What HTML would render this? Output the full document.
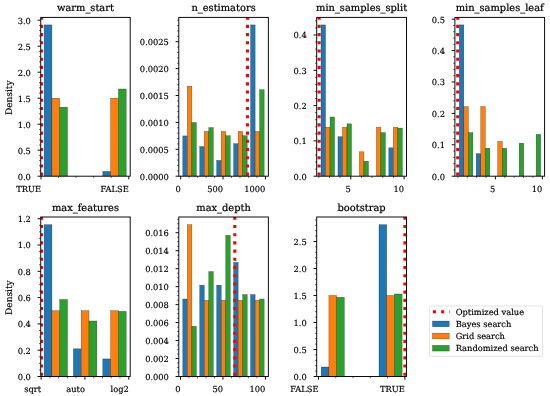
<!DOCTYPE html>
<html><head><meta charset="utf-8"><title>Hyperparameter distributions</title>
<style>
html,body{margin:0;padding:0;background:#fff;}
svg{display:block;font-family:"DejaVu Serif", "Liberation Serif", serif;fill:#000;text-rendering:geometricPrecision;}
text{stroke:#000;stroke-width:0.16px;}
</style></head>
<body>
<svg width="550" height="396" viewBox="0 0 550 396">
<rect width="550" height="396" fill="#fff"/>
<g>
<clipPath id="c1"><rect x="40.75" y="17.4" width="89.45" height="158.8"/></clipPath>
<g clip-path="url(#c1)">
<rect x="44.1" y="24.9" width="7.8" height="151.3" fill="#1f77b4" stroke="#000" stroke-opacity="0.55" stroke-width="0.45"/>
<rect x="51.9" y="98.2" width="7.8" height="78" fill="#ff7f0e" stroke="#000" stroke-opacity="0.55" stroke-width="0.45"/>
<rect x="59.7" y="107.2" width="7.8" height="69" fill="#2ca02c" stroke="#000" stroke-opacity="0.55" stroke-width="0.45"/>
<rect x="102.8" y="171.4" width="7.8" height="4.8" fill="#1f77b4" stroke="#000" stroke-opacity="0.55" stroke-width="0.45"/>
<rect x="110.6" y="98.2" width="7.8" height="78" fill="#ff7f0e" stroke="#000" stroke-opacity="0.55" stroke-width="0.45"/>
<rect x="118.4" y="89" width="7.8" height="87.2" fill="#2ca02c" stroke="#000" stroke-opacity="0.55" stroke-width="0.45"/>
<line x1="41.5" x2="41.5" y1="175.7" y2="17.4" stroke="#ff0000" stroke-width="3.1" stroke-dasharray="3.1 5.11"/>
</g>
<line x1="58.56" x2="58.56" y1="176.2" y2="177.95" stroke="#000" stroke-width="0.6"/>
<line x1="76.12" x2="76.12" y1="176.2" y2="177.95" stroke="#000" stroke-width="0.6"/>
<line x1="93.68" x2="93.68" y1="176.2" y2="177.95" stroke="#000" stroke-width="0.6"/>
<line x1="111.24" x2="111.24" y1="176.2" y2="177.95" stroke="#000" stroke-width="0.6"/>
<line x1="41" x2="41" y1="176.2" y2="179.4" stroke="#000" stroke-width="0.95"/>
<text x="41" y="191.75" font-size="8.3" text-anchor="end">TRUE</text>
<line x1="128.8" x2="128.8" y1="176.2" y2="179.4" stroke="#000" stroke-width="0.95"/>
<text x="128.8" y="191.75" font-size="8.3" text-anchor="end">FALSE</text>
<line x1="37.55" x2="40.75" y1="176.2" y2="176.2" stroke="#000" stroke-width="0.95"/>
<text x="30.85" y="179.54" font-size="8.3" text-anchor="end">0.0</text>
<line x1="37.55" x2="40.75" y1="150.2" y2="150.2" stroke="#000" stroke-width="0.95"/>
<text x="30.85" y="153.54" font-size="8.3" text-anchor="end">0.5</text>
<line x1="37.55" x2="40.75" y1="124.2" y2="124.2" stroke="#000" stroke-width="0.95"/>
<text x="30.85" y="127.54" font-size="8.3" text-anchor="end">1.0</text>
<line x1="37.55" x2="40.75" y1="98.2" y2="98.2" stroke="#000" stroke-width="0.95"/>
<text x="30.85" y="101.54" font-size="8.3" text-anchor="end">1.5</text>
<line x1="37.55" x2="40.75" y1="72.2" y2="72.2" stroke="#000" stroke-width="0.95"/>
<text x="30.85" y="75.54" font-size="8.3" text-anchor="end">2.0</text>
<line x1="37.55" x2="40.75" y1="46.2" y2="46.2" stroke="#000" stroke-width="0.95"/>
<text x="30.85" y="49.54" font-size="8.3" text-anchor="end">2.5</text>
<line x1="37.55" x2="40.75" y1="20.2" y2="20.2" stroke="#000" stroke-width="0.95"/>
<text x="30.85" y="23.54" font-size="8.3" text-anchor="end">3.0</text>
<line x1="39" x2="40.75" y1="171" y2="171" stroke="#000" stroke-width="0.6"/>
<line x1="39" x2="40.75" y1="165.8" y2="165.8" stroke="#000" stroke-width="0.6"/>
<line x1="39" x2="40.75" y1="160.6" y2="160.6" stroke="#000" stroke-width="0.6"/>
<line x1="39" x2="40.75" y1="155.4" y2="155.4" stroke="#000" stroke-width="0.6"/>
<line x1="39" x2="40.75" y1="145" y2="145" stroke="#000" stroke-width="0.6"/>
<line x1="39" x2="40.75" y1="139.8" y2="139.8" stroke="#000" stroke-width="0.6"/>
<line x1="39" x2="40.75" y1="134.6" y2="134.6" stroke="#000" stroke-width="0.6"/>
<line x1="39" x2="40.75" y1="129.4" y2="129.4" stroke="#000" stroke-width="0.6"/>
<line x1="39" x2="40.75" y1="119" y2="119" stroke="#000" stroke-width="0.6"/>
<line x1="39" x2="40.75" y1="113.8" y2="113.8" stroke="#000" stroke-width="0.6"/>
<line x1="39" x2="40.75" y1="108.6" y2="108.6" stroke="#000" stroke-width="0.6"/>
<line x1="39" x2="40.75" y1="103.4" y2="103.4" stroke="#000" stroke-width="0.6"/>
<line x1="39" x2="40.75" y1="93" y2="93" stroke="#000" stroke-width="0.6"/>
<line x1="39" x2="40.75" y1="87.8" y2="87.8" stroke="#000" stroke-width="0.6"/>
<line x1="39" x2="40.75" y1="82.6" y2="82.6" stroke="#000" stroke-width="0.6"/>
<line x1="39" x2="40.75" y1="77.4" y2="77.4" stroke="#000" stroke-width="0.6"/>
<line x1="39" x2="40.75" y1="67" y2="67" stroke="#000" stroke-width="0.6"/>
<line x1="39" x2="40.75" y1="61.8" y2="61.8" stroke="#000" stroke-width="0.6"/>
<line x1="39" x2="40.75" y1="56.6" y2="56.6" stroke="#000" stroke-width="0.6"/>
<line x1="39" x2="40.75" y1="51.4" y2="51.4" stroke="#000" stroke-width="0.6"/>
<line x1="39" x2="40.75" y1="41" y2="41" stroke="#000" stroke-width="0.6"/>
<line x1="39" x2="40.75" y1="35.8" y2="35.8" stroke="#000" stroke-width="0.6"/>
<line x1="39" x2="40.75" y1="30.6" y2="30.6" stroke="#000" stroke-width="0.6"/>
<line x1="39" x2="40.75" y1="25.4" y2="25.4" stroke="#000" stroke-width="0.6"/>
<rect x="40.75" y="17.4" width="89.45" height="158.8" fill="none" stroke="#000" stroke-width="0.95"/>
<text x="85.47" y="10.9" font-size="9.9" style="stroke-width:0.22px" text-anchor="middle">warm_start</text>
<text transform="translate(12.0,97.7) rotate(-90)" font-size="9.0" text-anchor="middle">Density</text>
</g>
<g>
<clipPath id="c2"><rect x="178.8" y="17.4" width="89.55" height="158.8"/></clipPath>
<g clip-path="url(#c2)">
<rect x="182.8" y="135.9" width="4.52" height="40.3" fill="#1f77b4" stroke="#000" stroke-opacity="0.55" stroke-width="0.45"/>
<rect x="187.32" y="86.2" width="4.52" height="90" fill="#ff7f0e" stroke="#000" stroke-opacity="0.55" stroke-width="0.45"/>
<rect x="191.84" y="122.5" width="4.52" height="53.7" fill="#2ca02c" stroke="#000" stroke-opacity="0.55" stroke-width="0.45"/>
<rect x="199.75" y="146.5" width="4.52" height="29.7" fill="#1f77b4" stroke="#000" stroke-opacity="0.55" stroke-width="0.45"/>
<rect x="204.27" y="131.4" width="4.52" height="44.8" fill="#ff7f0e" stroke="#000" stroke-opacity="0.55" stroke-width="0.45"/>
<rect x="208.79" y="127.6" width="4.52" height="48.6" fill="#2ca02c" stroke="#000" stroke-opacity="0.55" stroke-width="0.45"/>
<rect x="216.7" y="160.4" width="4.52" height="15.8" fill="#1f77b4" stroke="#000" stroke-opacity="0.55" stroke-width="0.45"/>
<rect x="221.22" y="131.4" width="4.52" height="44.8" fill="#ff7f0e" stroke="#000" stroke-opacity="0.55" stroke-width="0.45"/>
<rect x="225.74" y="135.7" width="4.52" height="40.5" fill="#2ca02c" stroke="#000" stroke-opacity="0.55" stroke-width="0.45"/>
<rect x="233.65" y="143.7" width="4.52" height="32.5" fill="#1f77b4" stroke="#000" stroke-opacity="0.55" stroke-width="0.45"/>
<rect x="238.17" y="131.4" width="4.52" height="44.8" fill="#ff7f0e" stroke="#000" stroke-opacity="0.55" stroke-width="0.45"/>
<rect x="242.69" y="135.7" width="4.52" height="40.5" fill="#2ca02c" stroke="#000" stroke-opacity="0.55" stroke-width="0.45"/>
<rect x="250.6" y="24.9" width="4.52" height="151.3" fill="#1f77b4" stroke="#000" stroke-opacity="0.55" stroke-width="0.45"/>
<rect x="255.12" y="131.4" width="4.52" height="44.8" fill="#ff7f0e" stroke="#000" stroke-opacity="0.55" stroke-width="0.45"/>
<rect x="259.64" y="89.7" width="4.52" height="86.5" fill="#2ca02c" stroke="#000" stroke-opacity="0.55" stroke-width="0.45"/>
<line x1="247.45" x2="247.45" y1="175.7" y2="17.4" stroke="#ff0000" stroke-width="3.1" stroke-dasharray="3.1 5.11"/>
</g>
<line x1="189.17" x2="189.17" y1="176.2" y2="177.95" stroke="#000" stroke-width="0.6"/>
<line x1="197.64" x2="197.64" y1="176.2" y2="177.95" stroke="#000" stroke-width="0.6"/>
<line x1="206.11" x2="206.11" y1="176.2" y2="177.95" stroke="#000" stroke-width="0.6"/>
<line x1="214.58" x2="214.58" y1="176.2" y2="177.95" stroke="#000" stroke-width="0.6"/>
<line x1="231.52" x2="231.52" y1="176.2" y2="177.95" stroke="#000" stroke-width="0.6"/>
<line x1="239.99" x2="239.99" y1="176.2" y2="177.95" stroke="#000" stroke-width="0.6"/>
<line x1="248.46" x2="248.46" y1="176.2" y2="177.95" stroke="#000" stroke-width="0.6"/>
<line x1="256.93" x2="256.93" y1="176.2" y2="177.95" stroke="#000" stroke-width="0.6"/>
<line x1="180.7" x2="180.7" y1="176.2" y2="179.4" stroke="#000" stroke-width="0.95"/>
<text x="180.7" y="191.75" font-size="8.3" text-anchor="end">0</text>
<line x1="223.05" x2="223.05" y1="176.2" y2="179.4" stroke="#000" stroke-width="0.95"/>
<text x="223.05" y="191.75" font-size="8.3" text-anchor="end">500</text>
<line x1="265.4" x2="265.4" y1="176.2" y2="179.4" stroke="#000" stroke-width="0.95"/>
<text x="265.4" y="191.75" font-size="8.3" text-anchor="end">1000</text>
<line x1="175.6" x2="178.8" y1="176.2" y2="176.2" stroke="#000" stroke-width="0.95"/>
<text x="168.9" y="179.54" font-size="8.3" text-anchor="end">0.0000</text>
<line x1="175.6" x2="178.8" y1="149.3" y2="149.3" stroke="#000" stroke-width="0.95"/>
<text x="168.9" y="152.64" font-size="8.3" text-anchor="end">0.0005</text>
<line x1="175.6" x2="178.8" y1="122.4" y2="122.4" stroke="#000" stroke-width="0.95"/>
<text x="168.9" y="125.74" font-size="8.3" text-anchor="end">0.0010</text>
<line x1="175.6" x2="178.8" y1="95.5" y2="95.5" stroke="#000" stroke-width="0.95"/>
<text x="168.9" y="98.84" font-size="8.3" text-anchor="end">0.0015</text>
<line x1="175.6" x2="178.8" y1="68.6" y2="68.6" stroke="#000" stroke-width="0.95"/>
<text x="168.9" y="71.94" font-size="8.3" text-anchor="end">0.0020</text>
<line x1="175.6" x2="178.8" y1="41.7" y2="41.7" stroke="#000" stroke-width="0.95"/>
<text x="168.9" y="45.04" font-size="8.3" text-anchor="end">0.0025</text>
<line x1="177.05" x2="178.8" y1="170.82" y2="170.82" stroke="#000" stroke-width="0.6"/>
<line x1="177.05" x2="178.8" y1="165.44" y2="165.44" stroke="#000" stroke-width="0.6"/>
<line x1="177.05" x2="178.8" y1="160.06" y2="160.06" stroke="#000" stroke-width="0.6"/>
<line x1="177.05" x2="178.8" y1="154.68" y2="154.68" stroke="#000" stroke-width="0.6"/>
<line x1="177.05" x2="178.8" y1="143.92" y2="143.92" stroke="#000" stroke-width="0.6"/>
<line x1="177.05" x2="178.8" y1="138.54" y2="138.54" stroke="#000" stroke-width="0.6"/>
<line x1="177.05" x2="178.8" y1="133.16" y2="133.16" stroke="#000" stroke-width="0.6"/>
<line x1="177.05" x2="178.8" y1="127.78" y2="127.78" stroke="#000" stroke-width="0.6"/>
<line x1="177.05" x2="178.8" y1="117.02" y2="117.02" stroke="#000" stroke-width="0.6"/>
<line x1="177.05" x2="178.8" y1="111.64" y2="111.64" stroke="#000" stroke-width="0.6"/>
<line x1="177.05" x2="178.8" y1="106.26" y2="106.26" stroke="#000" stroke-width="0.6"/>
<line x1="177.05" x2="178.8" y1="100.88" y2="100.88" stroke="#000" stroke-width="0.6"/>
<line x1="177.05" x2="178.8" y1="90.12" y2="90.12" stroke="#000" stroke-width="0.6"/>
<line x1="177.05" x2="178.8" y1="84.74" y2="84.74" stroke="#000" stroke-width="0.6"/>
<line x1="177.05" x2="178.8" y1="79.36" y2="79.36" stroke="#000" stroke-width="0.6"/>
<line x1="177.05" x2="178.8" y1="73.98" y2="73.98" stroke="#000" stroke-width="0.6"/>
<line x1="177.05" x2="178.8" y1="63.22" y2="63.22" stroke="#000" stroke-width="0.6"/>
<line x1="177.05" x2="178.8" y1="57.84" y2="57.84" stroke="#000" stroke-width="0.6"/>
<line x1="177.05" x2="178.8" y1="52.46" y2="52.46" stroke="#000" stroke-width="0.6"/>
<line x1="177.05" x2="178.8" y1="47.08" y2="47.08" stroke="#000" stroke-width="0.6"/>
<line x1="177.05" x2="178.8" y1="36.32" y2="36.32" stroke="#000" stroke-width="0.6"/>
<line x1="177.05" x2="178.8" y1="30.94" y2="30.94" stroke="#000" stroke-width="0.6"/>
<line x1="177.05" x2="178.8" y1="25.56" y2="25.56" stroke="#000" stroke-width="0.6"/>
<line x1="177.05" x2="178.8" y1="20.18" y2="20.18" stroke="#000" stroke-width="0.6"/>
<rect x="178.8" y="17.4" width="89.55" height="158.8" fill="none" stroke="#000" stroke-width="0.95"/>
<text x="223.58" y="10.9" font-size="9.9" style="stroke-width:0.22px" text-anchor="middle">n_estimators</text>
</g>
<g>
<clipPath id="c3"><rect x="316.7" y="17.4" width="89.8" height="158.8"/></clipPath>
<g clip-path="url(#c3)">
<rect x="321" y="24.9" width="4.52" height="151.3" fill="#1f77b4" stroke="#000" stroke-opacity="0.55" stroke-width="0.45"/>
<rect x="325.52" y="127.3" width="4.52" height="48.9" fill="#ff7f0e" stroke="#000" stroke-opacity="0.55" stroke-width="0.45"/>
<rect x="330.04" y="117" width="4.52" height="59.2" fill="#2ca02c" stroke="#000" stroke-opacity="0.55" stroke-width="0.45"/>
<rect x="337.95" y="136.7" width="4.52" height="39.5" fill="#1f77b4" stroke="#000" stroke-opacity="0.55" stroke-width="0.45"/>
<rect x="342.47" y="127.3" width="4.52" height="48.9" fill="#ff7f0e" stroke="#000" stroke-opacity="0.55" stroke-width="0.45"/>
<rect x="346.99" y="123.8" width="4.52" height="52.4" fill="#2ca02c" stroke="#000" stroke-opacity="0.55" stroke-width="0.45"/>
<rect x="359.42" y="151.8" width="4.52" height="24.4" fill="#ff7f0e" stroke="#000" stroke-opacity="0.55" stroke-width="0.45"/>
<rect x="363.94" y="161.2" width="4.52" height="15" fill="#2ca02c" stroke="#000" stroke-opacity="0.55" stroke-width="0.45"/>
<rect x="376.37" y="127.3" width="4.52" height="48.9" fill="#ff7f0e" stroke="#000" stroke-opacity="0.55" stroke-width="0.45"/>
<rect x="380.89" y="132.6" width="4.52" height="43.6" fill="#2ca02c" stroke="#000" stroke-opacity="0.55" stroke-width="0.45"/>
<rect x="388.8" y="147.8" width="4.52" height="28.4" fill="#1f77b4" stroke="#000" stroke-opacity="0.55" stroke-width="0.45"/>
<rect x="393.32" y="127.3" width="4.52" height="48.9" fill="#ff7f0e" stroke="#000" stroke-opacity="0.55" stroke-width="0.45"/>
<rect x="397.84" y="128.1" width="4.52" height="48.1" fill="#2ca02c" stroke="#000" stroke-opacity="0.55" stroke-width="0.45"/>
<line x1="319.1" x2="319.1" y1="175.7" y2="17.4" stroke="#ff0000" stroke-width="3.1" stroke-dasharray="3.1 5.11"/>
</g>
<line x1="318.82" x2="318.82" y1="176.2" y2="177.95" stroke="#000" stroke-width="0.6"/>
<line x1="329.48" x2="329.48" y1="176.2" y2="177.95" stroke="#000" stroke-width="0.6"/>
<line x1="340.14" x2="340.14" y1="176.2" y2="177.95" stroke="#000" stroke-width="0.6"/>
<line x1="361.46" x2="361.46" y1="176.2" y2="177.95" stroke="#000" stroke-width="0.6"/>
<line x1="372.12" x2="372.12" y1="176.2" y2="177.95" stroke="#000" stroke-width="0.6"/>
<line x1="382.78" x2="382.78" y1="176.2" y2="177.95" stroke="#000" stroke-width="0.6"/>
<line x1="393.44" x2="393.44" y1="176.2" y2="177.95" stroke="#000" stroke-width="0.6"/>
<line x1="350.8" x2="350.8" y1="176.2" y2="179.4" stroke="#000" stroke-width="0.95"/>
<text x="350.8" y="191.75" font-size="8.3" text-anchor="end">5</text>
<line x1="404.1" x2="404.1" y1="176.2" y2="179.4" stroke="#000" stroke-width="0.95"/>
<text x="404.1" y="191.75" font-size="8.3" text-anchor="end">10</text>
<line x1="313.5" x2="316.7" y1="176.2" y2="176.2" stroke="#000" stroke-width="0.95"/>
<text x="306.8" y="179.54" font-size="8.3" text-anchor="end">0.0</text>
<line x1="313.5" x2="316.7" y1="140.9" y2="140.9" stroke="#000" stroke-width="0.95"/>
<text x="306.8" y="144.24" font-size="8.3" text-anchor="end">0.1</text>
<line x1="313.5" x2="316.7" y1="105.6" y2="105.6" stroke="#000" stroke-width="0.95"/>
<text x="306.8" y="108.94" font-size="8.3" text-anchor="end">0.2</text>
<line x1="313.5" x2="316.7" y1="70.3" y2="70.3" stroke="#000" stroke-width="0.95"/>
<text x="306.8" y="73.64" font-size="8.3" text-anchor="end">0.3</text>
<line x1="313.5" x2="316.7" y1="35" y2="35" stroke="#000" stroke-width="0.95"/>
<text x="306.8" y="38.34" font-size="8.3" text-anchor="end">0.4</text>
<line x1="314.95" x2="316.7" y1="169.14" y2="169.14" stroke="#000" stroke-width="0.6"/>
<line x1="314.95" x2="316.7" y1="162.08" y2="162.08" stroke="#000" stroke-width="0.6"/>
<line x1="314.95" x2="316.7" y1="155.02" y2="155.02" stroke="#000" stroke-width="0.6"/>
<line x1="314.95" x2="316.7" y1="147.96" y2="147.96" stroke="#000" stroke-width="0.6"/>
<line x1="314.95" x2="316.7" y1="133.84" y2="133.84" stroke="#000" stroke-width="0.6"/>
<line x1="314.95" x2="316.7" y1="126.78" y2="126.78" stroke="#000" stroke-width="0.6"/>
<line x1="314.95" x2="316.7" y1="119.72" y2="119.72" stroke="#000" stroke-width="0.6"/>
<line x1="314.95" x2="316.7" y1="112.66" y2="112.66" stroke="#000" stroke-width="0.6"/>
<line x1="314.95" x2="316.7" y1="98.54" y2="98.54" stroke="#000" stroke-width="0.6"/>
<line x1="314.95" x2="316.7" y1="91.48" y2="91.48" stroke="#000" stroke-width="0.6"/>
<line x1="314.95" x2="316.7" y1="84.42" y2="84.42" stroke="#000" stroke-width="0.6"/>
<line x1="314.95" x2="316.7" y1="77.36" y2="77.36" stroke="#000" stroke-width="0.6"/>
<line x1="314.95" x2="316.7" y1="63.24" y2="63.24" stroke="#000" stroke-width="0.6"/>
<line x1="314.95" x2="316.7" y1="56.18" y2="56.18" stroke="#000" stroke-width="0.6"/>
<line x1="314.95" x2="316.7" y1="49.12" y2="49.12" stroke="#000" stroke-width="0.6"/>
<line x1="314.95" x2="316.7" y1="42.06" y2="42.06" stroke="#000" stroke-width="0.6"/>
<line x1="314.95" x2="316.7" y1="27.94" y2="27.94" stroke="#000" stroke-width="0.6"/>
<line x1="314.95" x2="316.7" y1="20.88" y2="20.88" stroke="#000" stroke-width="0.6"/>
<rect x="316.7" y="17.4" width="89.8" height="158.8" fill="none" stroke="#000" stroke-width="0.95"/>
<text x="361.6" y="10.9" font-size="9.9" style="stroke-width:0.22px" text-anchor="middle">min_samples_split</text>
</g>
<g>
<clipPath id="c4"><rect x="454.9" y="17.4" width="89.7" height="158.8"/></clipPath>
<g clip-path="url(#c4)">
<rect x="459.3" y="24.9" width="4.52" height="151.3" fill="#1f77b4" stroke="#000" stroke-opacity="0.55" stroke-width="0.45"/>
<rect x="463.82" y="106.6" width="4.52" height="69.6" fill="#ff7f0e" stroke="#000" stroke-opacity="0.55" stroke-width="0.45"/>
<rect x="468.34" y="132.6" width="4.52" height="43.6" fill="#2ca02c" stroke="#000" stroke-opacity="0.55" stroke-width="0.45"/>
<rect x="476.25" y="153.6" width="4.52" height="22.6" fill="#1f77b4" stroke="#000" stroke-opacity="0.55" stroke-width="0.45"/>
<rect x="480.77" y="106.6" width="4.52" height="69.6" fill="#ff7f0e" stroke="#000" stroke-opacity="0.55" stroke-width="0.45"/>
<rect x="485.29" y="148.3" width="4.52" height="27.9" fill="#2ca02c" stroke="#000" stroke-opacity="0.55" stroke-width="0.45"/>
<rect x="497.72" y="141.5" width="4.52" height="34.7" fill="#ff7f0e" stroke="#000" stroke-opacity="0.55" stroke-width="0.45"/>
<rect x="502.24" y="148.3" width="4.52" height="27.9" fill="#2ca02c" stroke="#000" stroke-opacity="0.55" stroke-width="0.45"/>
<rect x="519.19" y="143.2" width="4.52" height="33" fill="#2ca02c" stroke="#000" stroke-opacity="0.55" stroke-width="0.45"/>
<rect x="536.14" y="134.4" width="4.52" height="41.8" fill="#2ca02c" stroke="#000" stroke-opacity="0.55" stroke-width="0.45"/>
<line x1="457.7" x2="457.7" y1="175.7" y2="17.4" stroke="#ff0000" stroke-width="3.1" stroke-dasharray="3.1 5.11"/>
</g>
<line x1="457.84" x2="457.84" y1="176.2" y2="177.95" stroke="#000" stroke-width="0.6"/>
<line x1="467.23" x2="467.23" y1="176.2" y2="177.95" stroke="#000" stroke-width="0.6"/>
<line x1="476.62" x2="476.62" y1="176.2" y2="177.95" stroke="#000" stroke-width="0.6"/>
<line x1="486.01" x2="486.01" y1="176.2" y2="177.95" stroke="#000" stroke-width="0.6"/>
<line x1="504.79" x2="504.79" y1="176.2" y2="177.95" stroke="#000" stroke-width="0.6"/>
<line x1="514.18" x2="514.18" y1="176.2" y2="177.95" stroke="#000" stroke-width="0.6"/>
<line x1="523.57" x2="523.57" y1="176.2" y2="177.95" stroke="#000" stroke-width="0.6"/>
<line x1="532.96" x2="532.96" y1="176.2" y2="177.95" stroke="#000" stroke-width="0.6"/>
<line x1="495.4" x2="495.4" y1="176.2" y2="179.4" stroke="#000" stroke-width="0.95"/>
<text x="495.4" y="191.75" font-size="8.3" text-anchor="end">5</text>
<line x1="542.35" x2="542.35" y1="176.2" y2="179.4" stroke="#000" stroke-width="0.95"/>
<text x="542.35" y="191.75" font-size="8.3" text-anchor="end">10</text>
<line x1="451.7" x2="454.9" y1="176.2" y2="176.2" stroke="#000" stroke-width="0.95"/>
<text x="445" y="179.54" font-size="8.3" text-anchor="end">0.0</text>
<line x1="451.7" x2="454.9" y1="144.8" y2="144.8" stroke="#000" stroke-width="0.95"/>
<text x="445" y="148.14" font-size="8.3" text-anchor="end">0.1</text>
<line x1="451.7" x2="454.9" y1="113.4" y2="113.4" stroke="#000" stroke-width="0.95"/>
<text x="445" y="116.74" font-size="8.3" text-anchor="end">0.2</text>
<line x1="451.7" x2="454.9" y1="82" y2="82" stroke="#000" stroke-width="0.95"/>
<text x="445" y="85.34" font-size="8.3" text-anchor="end">0.3</text>
<line x1="451.7" x2="454.9" y1="50.6" y2="50.6" stroke="#000" stroke-width="0.95"/>
<text x="445" y="53.94" font-size="8.3" text-anchor="end">0.4</text>
<line x1="451.7" x2="454.9" y1="19.2" y2="19.2" stroke="#000" stroke-width="0.95"/>
<text x="445" y="22.54" font-size="8.3" text-anchor="end">0.5</text>
<line x1="453.15" x2="454.9" y1="169.92" y2="169.92" stroke="#000" stroke-width="0.6"/>
<line x1="453.15" x2="454.9" y1="163.64" y2="163.64" stroke="#000" stroke-width="0.6"/>
<line x1="453.15" x2="454.9" y1="157.36" y2="157.36" stroke="#000" stroke-width="0.6"/>
<line x1="453.15" x2="454.9" y1="151.08" y2="151.08" stroke="#000" stroke-width="0.6"/>
<line x1="453.15" x2="454.9" y1="138.52" y2="138.52" stroke="#000" stroke-width="0.6"/>
<line x1="453.15" x2="454.9" y1="132.24" y2="132.24" stroke="#000" stroke-width="0.6"/>
<line x1="453.15" x2="454.9" y1="125.96" y2="125.96" stroke="#000" stroke-width="0.6"/>
<line x1="453.15" x2="454.9" y1="119.68" y2="119.68" stroke="#000" stroke-width="0.6"/>
<line x1="453.15" x2="454.9" y1="107.12" y2="107.12" stroke="#000" stroke-width="0.6"/>
<line x1="453.15" x2="454.9" y1="100.84" y2="100.84" stroke="#000" stroke-width="0.6"/>
<line x1="453.15" x2="454.9" y1="94.56" y2="94.56" stroke="#000" stroke-width="0.6"/>
<line x1="453.15" x2="454.9" y1="88.28" y2="88.28" stroke="#000" stroke-width="0.6"/>
<line x1="453.15" x2="454.9" y1="75.72" y2="75.72" stroke="#000" stroke-width="0.6"/>
<line x1="453.15" x2="454.9" y1="69.44" y2="69.44" stroke="#000" stroke-width="0.6"/>
<line x1="453.15" x2="454.9" y1="63.16" y2="63.16" stroke="#000" stroke-width="0.6"/>
<line x1="453.15" x2="454.9" y1="56.88" y2="56.88" stroke="#000" stroke-width="0.6"/>
<line x1="453.15" x2="454.9" y1="44.32" y2="44.32" stroke="#000" stroke-width="0.6"/>
<line x1="453.15" x2="454.9" y1="38.04" y2="38.04" stroke="#000" stroke-width="0.6"/>
<line x1="453.15" x2="454.9" y1="31.76" y2="31.76" stroke="#000" stroke-width="0.6"/>
<line x1="453.15" x2="454.9" y1="25.48" y2="25.48" stroke="#000" stroke-width="0.6"/>
<rect x="454.9" y="17.4" width="89.7" height="158.8" fill="none" stroke="#000" stroke-width="0.95"/>
<text x="499.75" y="10.9" font-size="9.9" style="stroke-width:0.22px" text-anchor="middle">min_samples_leaf</text>
</g>
<g>
<clipPath id="c5"><rect x="40.75" y="217" width="89.45" height="159.5"/></clipPath>
<g clip-path="url(#c5)">
<rect x="44.1" y="224.7" width="7.8" height="151.8" fill="#1f77b4" stroke="#000" stroke-opacity="0.55" stroke-width="0.45"/>
<rect x="51.9" y="310.7" width="7.8" height="65.8" fill="#ff7f0e" stroke="#000" stroke-opacity="0.55" stroke-width="0.45"/>
<rect x="59.7" y="299.5" width="7.8" height="77" fill="#2ca02c" stroke="#000" stroke-opacity="0.55" stroke-width="0.45"/>
<rect x="73.4" y="348.8" width="7.8" height="27.7" fill="#1f77b4" stroke="#000" stroke-opacity="0.55" stroke-width="0.45"/>
<rect x="81.2" y="310.7" width="7.8" height="65.8" fill="#ff7f0e" stroke="#000" stroke-opacity="0.55" stroke-width="0.45"/>
<rect x="89" y="321" width="7.8" height="55.5" fill="#2ca02c" stroke="#000" stroke-opacity="0.55" stroke-width="0.45"/>
<rect x="102.8" y="358.9" width="7.8" height="17.6" fill="#1f77b4" stroke="#000" stroke-opacity="0.55" stroke-width="0.45"/>
<rect x="110.6" y="310.7" width="7.8" height="65.8" fill="#ff7f0e" stroke="#000" stroke-opacity="0.55" stroke-width="0.45"/>
<rect x="118.4" y="311.4" width="7.8" height="65.1" fill="#2ca02c" stroke="#000" stroke-opacity="0.55" stroke-width="0.45"/>
<line x1="41.5" x2="41.5" y1="375.8" y2="217" stroke="#ff0000" stroke-width="3.1" stroke-dasharray="3.1 5.11"/>
</g>
<line x1="49.87" x2="49.87" y1="376.5" y2="378.25" stroke="#000" stroke-width="0.6"/>
<line x1="58.64" x2="58.64" y1="376.5" y2="378.25" stroke="#000" stroke-width="0.6"/>
<line x1="67.41" x2="67.41" y1="376.5" y2="378.25" stroke="#000" stroke-width="0.6"/>
<line x1="76.18" x2="76.18" y1="376.5" y2="378.25" stroke="#000" stroke-width="0.6"/>
<line x1="93.72" x2="93.72" y1="376.5" y2="378.25" stroke="#000" stroke-width="0.6"/>
<line x1="102.49" x2="102.49" y1="376.5" y2="378.25" stroke="#000" stroke-width="0.6"/>
<line x1="111.26" x2="111.26" y1="376.5" y2="378.25" stroke="#000" stroke-width="0.6"/>
<line x1="120.03" x2="120.03" y1="376.5" y2="378.25" stroke="#000" stroke-width="0.6"/>
<line x1="41.1" x2="41.1" y1="376.5" y2="379.7" stroke="#000" stroke-width="0.95"/>
<text x="41.1" y="392.05" font-size="8.3" text-anchor="end">sqrt</text>
<line x1="84.95" x2="84.95" y1="376.5" y2="379.7" stroke="#000" stroke-width="0.95"/>
<text x="84.95" y="392.05" font-size="8.3" text-anchor="end">auto</text>
<line x1="128.8" x2="128.8" y1="376.5" y2="379.7" stroke="#000" stroke-width="0.95"/>
<text x="128.8" y="392.05" font-size="8.3" text-anchor="end">log2</text>
<line x1="37.55" x2="40.75" y1="376.5" y2="376.5" stroke="#000" stroke-width="0.95"/>
<text x="30.85" y="379.84" font-size="8.3" text-anchor="end">0.0</text>
<line x1="37.55" x2="40.75" y1="350.2" y2="350.2" stroke="#000" stroke-width="0.95"/>
<text x="30.85" y="353.54" font-size="8.3" text-anchor="end">0.2</text>
<line x1="37.55" x2="40.75" y1="323.9" y2="323.9" stroke="#000" stroke-width="0.95"/>
<text x="30.85" y="327.24" font-size="8.3" text-anchor="end">0.4</text>
<line x1="37.55" x2="40.75" y1="297.6" y2="297.6" stroke="#000" stroke-width="0.95"/>
<text x="30.85" y="300.94" font-size="8.3" text-anchor="end">0.6</text>
<line x1="37.55" x2="40.75" y1="271.3" y2="271.3" stroke="#000" stroke-width="0.95"/>
<text x="30.85" y="274.64" font-size="8.3" text-anchor="end">0.8</text>
<line x1="37.55" x2="40.75" y1="245" y2="245" stroke="#000" stroke-width="0.95"/>
<text x="30.85" y="248.34" font-size="8.3" text-anchor="end">1.0</text>
<line x1="37.55" x2="40.75" y1="218.7" y2="218.7" stroke="#000" stroke-width="0.95"/>
<text x="30.85" y="222.04" font-size="8.3" text-anchor="end">1.2</text>
<line x1="39" x2="40.75" y1="369.93" y2="369.93" stroke="#000" stroke-width="0.6"/>
<line x1="39" x2="40.75" y1="363.35" y2="363.35" stroke="#000" stroke-width="0.6"/>
<line x1="39" x2="40.75" y1="356.77" y2="356.77" stroke="#000" stroke-width="0.6"/>
<line x1="39" x2="40.75" y1="343.62" y2="343.62" stroke="#000" stroke-width="0.6"/>
<line x1="39" x2="40.75" y1="337.05" y2="337.05" stroke="#000" stroke-width="0.6"/>
<line x1="39" x2="40.75" y1="330.48" y2="330.48" stroke="#000" stroke-width="0.6"/>
<line x1="39" x2="40.75" y1="317.32" y2="317.32" stroke="#000" stroke-width="0.6"/>
<line x1="39" x2="40.75" y1="310.75" y2="310.75" stroke="#000" stroke-width="0.6"/>
<line x1="39" x2="40.75" y1="304.18" y2="304.18" stroke="#000" stroke-width="0.6"/>
<line x1="39" x2="40.75" y1="291.02" y2="291.02" stroke="#000" stroke-width="0.6"/>
<line x1="39" x2="40.75" y1="284.45" y2="284.45" stroke="#000" stroke-width="0.6"/>
<line x1="39" x2="40.75" y1="277.88" y2="277.88" stroke="#000" stroke-width="0.6"/>
<line x1="39" x2="40.75" y1="264.73" y2="264.73" stroke="#000" stroke-width="0.6"/>
<line x1="39" x2="40.75" y1="258.15" y2="258.15" stroke="#000" stroke-width="0.6"/>
<line x1="39" x2="40.75" y1="251.57" y2="251.57" stroke="#000" stroke-width="0.6"/>
<line x1="39" x2="40.75" y1="238.42" y2="238.42" stroke="#000" stroke-width="0.6"/>
<line x1="39" x2="40.75" y1="231.85" y2="231.85" stroke="#000" stroke-width="0.6"/>
<line x1="39" x2="40.75" y1="225.27" y2="225.27" stroke="#000" stroke-width="0.6"/>
<rect x="40.75" y="217" width="89.45" height="159.5" fill="none" stroke="#000" stroke-width="0.95"/>
<text x="85.47" y="210.5" font-size="9.9" style="stroke-width:0.22px" text-anchor="middle">max_features</text>
<text transform="translate(12.0,297.65) rotate(-90)" font-size="9.0" text-anchor="middle">Density</text>
</g>
<g>
<clipPath id="c6"><rect x="178.8" y="217" width="89.55" height="159.5"/></clipPath>
<g clip-path="url(#c6)">
<rect x="182.8" y="299" width="4.52" height="77.5" fill="#1f77b4" stroke="#000" stroke-opacity="0.55" stroke-width="0.45"/>
<rect x="187.32" y="224.7" width="4.52" height="151.8" fill="#ff7f0e" stroke="#000" stroke-opacity="0.55" stroke-width="0.45"/>
<rect x="191.84" y="326.3" width="4.52" height="50.2" fill="#2ca02c" stroke="#000" stroke-opacity="0.55" stroke-width="0.45"/>
<rect x="199.75" y="285.2" width="4.52" height="91.3" fill="#1f77b4" stroke="#000" stroke-opacity="0.55" stroke-width="0.45"/>
<rect x="204.27" y="300.3" width="4.52" height="76.2" fill="#ff7f0e" stroke="#000" stroke-opacity="0.55" stroke-width="0.45"/>
<rect x="208.79" y="271.6" width="4.52" height="104.9" fill="#2ca02c" stroke="#000" stroke-opacity="0.55" stroke-width="0.45"/>
<rect x="216.7" y="285.2" width="4.52" height="91.3" fill="#1f77b4" stroke="#000" stroke-opacity="0.55" stroke-width="0.45"/>
<rect x="221.22" y="300.3" width="4.52" height="76.2" fill="#ff7f0e" stroke="#000" stroke-opacity="0.55" stroke-width="0.45"/>
<rect x="225.74" y="235.4" width="4.52" height="141.1" fill="#2ca02c" stroke="#000" stroke-opacity="0.55" stroke-width="0.45"/>
<rect x="233.65" y="262.5" width="4.52" height="114" fill="#1f77b4" stroke="#000" stroke-opacity="0.55" stroke-width="0.45"/>
<rect x="238.17" y="300.3" width="4.52" height="76.2" fill="#ff7f0e" stroke="#000" stroke-opacity="0.55" stroke-width="0.45"/>
<rect x="242.69" y="294.6" width="4.52" height="81.9" fill="#2ca02c" stroke="#000" stroke-opacity="0.55" stroke-width="0.45"/>
<rect x="250.6" y="294.6" width="4.52" height="81.9" fill="#1f77b4" stroke="#000" stroke-opacity="0.55" stroke-width="0.45"/>
<rect x="255.12" y="300.3" width="4.52" height="76.2" fill="#ff7f0e" stroke="#000" stroke-opacity="0.55" stroke-width="0.45"/>
<rect x="259.64" y="299" width="4.52" height="77.5" fill="#2ca02c" stroke="#000" stroke-opacity="0.55" stroke-width="0.45"/>
<line x1="234.8" x2="234.8" y1="375.8" y2="217" stroke="#ff0000" stroke-width="3.1" stroke-dasharray="3.1 5.11"/>
</g>
<line x1="188.99" x2="188.99" y1="376.5" y2="378.25" stroke="#000" stroke-width="0.6"/>
<line x1="197.48" x2="197.48" y1="376.5" y2="378.25" stroke="#000" stroke-width="0.6"/>
<line x1="205.97" x2="205.97" y1="376.5" y2="378.25" stroke="#000" stroke-width="0.6"/>
<line x1="214.46" x2="214.46" y1="376.5" y2="378.25" stroke="#000" stroke-width="0.6"/>
<line x1="231.44" x2="231.44" y1="376.5" y2="378.25" stroke="#000" stroke-width="0.6"/>
<line x1="239.93" x2="239.93" y1="376.5" y2="378.25" stroke="#000" stroke-width="0.6"/>
<line x1="248.42" x2="248.42" y1="376.5" y2="378.25" stroke="#000" stroke-width="0.6"/>
<line x1="256.91" x2="256.91" y1="376.5" y2="378.25" stroke="#000" stroke-width="0.6"/>
<line x1="180.5" x2="180.5" y1="376.5" y2="379.7" stroke="#000" stroke-width="0.95"/>
<text x="180.5" y="392.05" font-size="8.3" text-anchor="end">0</text>
<line x1="222.95" x2="222.95" y1="376.5" y2="379.7" stroke="#000" stroke-width="0.95"/>
<text x="222.95" y="392.05" font-size="8.3" text-anchor="end">50</text>
<line x1="265.4" x2="265.4" y1="376.5" y2="379.7" stroke="#000" stroke-width="0.95"/>
<text x="265.4" y="392.05" font-size="8.3" text-anchor="end">100</text>
<line x1="175.6" x2="178.8" y1="376.5" y2="376.5" stroke="#000" stroke-width="0.95"/>
<text x="168.9" y="379.84" font-size="8.3" text-anchor="end">0.000</text>
<line x1="175.6" x2="178.8" y1="358.53" y2="358.53" stroke="#000" stroke-width="0.95"/>
<text x="168.9" y="361.87" font-size="8.3" text-anchor="end">0.002</text>
<line x1="175.6" x2="178.8" y1="340.56" y2="340.56" stroke="#000" stroke-width="0.95"/>
<text x="168.9" y="343.9" font-size="8.3" text-anchor="end">0.004</text>
<line x1="175.6" x2="178.8" y1="322.59" y2="322.59" stroke="#000" stroke-width="0.95"/>
<text x="168.9" y="325.93" font-size="8.3" text-anchor="end">0.006</text>
<line x1="175.6" x2="178.8" y1="304.62" y2="304.62" stroke="#000" stroke-width="0.95"/>
<text x="168.9" y="307.96" font-size="8.3" text-anchor="end">0.008</text>
<line x1="175.6" x2="178.8" y1="286.65" y2="286.65" stroke="#000" stroke-width="0.95"/>
<text x="168.9" y="289.99" font-size="8.3" text-anchor="end">0.010</text>
<line x1="175.6" x2="178.8" y1="268.68" y2="268.68" stroke="#000" stroke-width="0.95"/>
<text x="168.9" y="272.02" font-size="8.3" text-anchor="end">0.012</text>
<line x1="175.6" x2="178.8" y1="250.71" y2="250.71" stroke="#000" stroke-width="0.95"/>
<text x="168.9" y="254.05" font-size="8.3" text-anchor="end">0.014</text>
<line x1="175.6" x2="178.8" y1="232.74" y2="232.74" stroke="#000" stroke-width="0.95"/>
<text x="168.9" y="236.08" font-size="8.3" text-anchor="end">0.016</text>
<line x1="177.05" x2="178.8" y1="372.01" y2="372.01" stroke="#000" stroke-width="0.6"/>
<line x1="177.05" x2="178.8" y1="367.51" y2="367.51" stroke="#000" stroke-width="0.6"/>
<line x1="177.05" x2="178.8" y1="363.02" y2="363.02" stroke="#000" stroke-width="0.6"/>
<line x1="177.05" x2="178.8" y1="354.04" y2="354.04" stroke="#000" stroke-width="0.6"/>
<line x1="177.05" x2="178.8" y1="349.55" y2="349.55" stroke="#000" stroke-width="0.6"/>
<line x1="177.05" x2="178.8" y1="345.05" y2="345.05" stroke="#000" stroke-width="0.6"/>
<line x1="177.05" x2="178.8" y1="336.07" y2="336.07" stroke="#000" stroke-width="0.6"/>
<line x1="177.05" x2="178.8" y1="331.57" y2="331.57" stroke="#000" stroke-width="0.6"/>
<line x1="177.05" x2="178.8" y1="327.08" y2="327.08" stroke="#000" stroke-width="0.6"/>
<line x1="177.05" x2="178.8" y1="318.1" y2="318.1" stroke="#000" stroke-width="0.6"/>
<line x1="177.05" x2="178.8" y1="313.61" y2="313.61" stroke="#000" stroke-width="0.6"/>
<line x1="177.05" x2="178.8" y1="309.11" y2="309.11" stroke="#000" stroke-width="0.6"/>
<line x1="177.05" x2="178.8" y1="300.13" y2="300.13" stroke="#000" stroke-width="0.6"/>
<line x1="177.05" x2="178.8" y1="295.63" y2="295.63" stroke="#000" stroke-width="0.6"/>
<line x1="177.05" x2="178.8" y1="291.14" y2="291.14" stroke="#000" stroke-width="0.6"/>
<line x1="177.05" x2="178.8" y1="282.16" y2="282.16" stroke="#000" stroke-width="0.6"/>
<line x1="177.05" x2="178.8" y1="277.67" y2="277.67" stroke="#000" stroke-width="0.6"/>
<line x1="177.05" x2="178.8" y1="273.17" y2="273.17" stroke="#000" stroke-width="0.6"/>
<line x1="177.05" x2="178.8" y1="264.19" y2="264.19" stroke="#000" stroke-width="0.6"/>
<line x1="177.05" x2="178.8" y1="259.69" y2="259.69" stroke="#000" stroke-width="0.6"/>
<line x1="177.05" x2="178.8" y1="255.2" y2="255.2" stroke="#000" stroke-width="0.6"/>
<line x1="177.05" x2="178.8" y1="246.22" y2="246.22" stroke="#000" stroke-width="0.6"/>
<line x1="177.05" x2="178.8" y1="241.72" y2="241.72" stroke="#000" stroke-width="0.6"/>
<line x1="177.05" x2="178.8" y1="237.23" y2="237.23" stroke="#000" stroke-width="0.6"/>
<line x1="177.05" x2="178.8" y1="228.25" y2="228.25" stroke="#000" stroke-width="0.6"/>
<line x1="177.05" x2="178.8" y1="223.75" y2="223.75" stroke="#000" stroke-width="0.6"/>
<line x1="177.05" x2="178.8" y1="219.26" y2="219.26" stroke="#000" stroke-width="0.6"/>
<rect x="178.8" y="217" width="89.55" height="159.5" fill="none" stroke="#000" stroke-width="0.95"/>
<text x="223.58" y="210.5" font-size="9.9" style="stroke-width:0.22px" text-anchor="middle">max_depth</text>
</g>
<g>
<clipPath id="c7"><rect x="316.7" y="217" width="89.8" height="159.5"/></clipPath>
<g clip-path="url(#c7)">
<rect x="321.2" y="367" width="7.7" height="9.5" fill="#1f77b4" stroke="#000" stroke-opacity="0.55" stroke-width="0.45"/>
<rect x="328.9" y="295.5" width="7.7" height="81" fill="#ff7f0e" stroke="#000" stroke-opacity="0.55" stroke-width="0.45"/>
<rect x="336.6" y="297.3" width="7.7" height="79.2" fill="#2ca02c" stroke="#000" stroke-opacity="0.55" stroke-width="0.45"/>
<rect x="379" y="224.7" width="7.7" height="151.8" fill="#1f77b4" stroke="#000" stroke-opacity="0.55" stroke-width="0.45"/>
<rect x="386.7" y="295.5" width="7.7" height="81" fill="#ff7f0e" stroke="#000" stroke-opacity="0.55" stroke-width="0.45"/>
<rect x="394.4" y="294" width="7.7" height="82.5" fill="#2ca02c" stroke="#000" stroke-opacity="0.55" stroke-width="0.45"/>
<line x1="404.9" x2="404.9" y1="375.8" y2="217" stroke="#ff0000" stroke-width="3.1" stroke-dasharray="3.1 5.11"/>
</g>
<line x1="335.78" x2="335.78" y1="376.5" y2="378.25" stroke="#000" stroke-width="0.6"/>
<line x1="353.06" x2="353.06" y1="376.5" y2="378.25" stroke="#000" stroke-width="0.6"/>
<line x1="370.34" x2="370.34" y1="376.5" y2="378.25" stroke="#000" stroke-width="0.6"/>
<line x1="387.62" x2="387.62" y1="376.5" y2="378.25" stroke="#000" stroke-width="0.6"/>
<line x1="318.5" x2="318.5" y1="376.5" y2="379.7" stroke="#000" stroke-width="0.95"/>
<text x="318.5" y="392.05" font-size="8.3" text-anchor="end">FALSE</text>
<line x1="404.9" x2="404.9" y1="376.5" y2="379.7" stroke="#000" stroke-width="0.95"/>
<text x="404.9" y="392.05" font-size="8.3" text-anchor="end">TRUE</text>
<line x1="313.5" x2="316.7" y1="376.5" y2="376.5" stroke="#000" stroke-width="0.95"/>
<text x="306.8" y="379.84" font-size="8.3" text-anchor="end">0.0</text>
<line x1="313.5" x2="316.7" y1="349.5" y2="349.5" stroke="#000" stroke-width="0.95"/>
<text x="306.8" y="352.84" font-size="8.3" text-anchor="end">0.5</text>
<line x1="313.5" x2="316.7" y1="322.5" y2="322.5" stroke="#000" stroke-width="0.95"/>
<text x="306.8" y="325.84" font-size="8.3" text-anchor="end">1.0</text>
<line x1="313.5" x2="316.7" y1="295.5" y2="295.5" stroke="#000" stroke-width="0.95"/>
<text x="306.8" y="298.84" font-size="8.3" text-anchor="end">1.5</text>
<line x1="313.5" x2="316.7" y1="268.5" y2="268.5" stroke="#000" stroke-width="0.95"/>
<text x="306.8" y="271.84" font-size="8.3" text-anchor="end">2.0</text>
<line x1="313.5" x2="316.7" y1="241.5" y2="241.5" stroke="#000" stroke-width="0.95"/>
<text x="306.8" y="244.84" font-size="8.3" text-anchor="end">2.5</text>
<line x1="314.95" x2="316.7" y1="371.1" y2="371.1" stroke="#000" stroke-width="0.6"/>
<line x1="314.95" x2="316.7" y1="365.7" y2="365.7" stroke="#000" stroke-width="0.6"/>
<line x1="314.95" x2="316.7" y1="360.3" y2="360.3" stroke="#000" stroke-width="0.6"/>
<line x1="314.95" x2="316.7" y1="354.9" y2="354.9" stroke="#000" stroke-width="0.6"/>
<line x1="314.95" x2="316.7" y1="344.1" y2="344.1" stroke="#000" stroke-width="0.6"/>
<line x1="314.95" x2="316.7" y1="338.7" y2="338.7" stroke="#000" stroke-width="0.6"/>
<line x1="314.95" x2="316.7" y1="333.3" y2="333.3" stroke="#000" stroke-width="0.6"/>
<line x1="314.95" x2="316.7" y1="327.9" y2="327.9" stroke="#000" stroke-width="0.6"/>
<line x1="314.95" x2="316.7" y1="317.1" y2="317.1" stroke="#000" stroke-width="0.6"/>
<line x1="314.95" x2="316.7" y1="311.7" y2="311.7" stroke="#000" stroke-width="0.6"/>
<line x1="314.95" x2="316.7" y1="306.3" y2="306.3" stroke="#000" stroke-width="0.6"/>
<line x1="314.95" x2="316.7" y1="300.9" y2="300.9" stroke="#000" stroke-width="0.6"/>
<line x1="314.95" x2="316.7" y1="290.1" y2="290.1" stroke="#000" stroke-width="0.6"/>
<line x1="314.95" x2="316.7" y1="284.7" y2="284.7" stroke="#000" stroke-width="0.6"/>
<line x1="314.95" x2="316.7" y1="279.3" y2="279.3" stroke="#000" stroke-width="0.6"/>
<line x1="314.95" x2="316.7" y1="273.9" y2="273.9" stroke="#000" stroke-width="0.6"/>
<line x1="314.95" x2="316.7" y1="263.1" y2="263.1" stroke="#000" stroke-width="0.6"/>
<line x1="314.95" x2="316.7" y1="257.7" y2="257.7" stroke="#000" stroke-width="0.6"/>
<line x1="314.95" x2="316.7" y1="252.3" y2="252.3" stroke="#000" stroke-width="0.6"/>
<line x1="314.95" x2="316.7" y1="246.9" y2="246.9" stroke="#000" stroke-width="0.6"/>
<line x1="314.95" x2="316.7" y1="236.1" y2="236.1" stroke="#000" stroke-width="0.6"/>
<line x1="314.95" x2="316.7" y1="230.7" y2="230.7" stroke="#000" stroke-width="0.6"/>
<line x1="314.95" x2="316.7" y1="225.3" y2="225.3" stroke="#000" stroke-width="0.6"/>
<line x1="314.95" x2="316.7" y1="219.9" y2="219.9" stroke="#000" stroke-width="0.6"/>
<rect x="316.7" y="217" width="89.8" height="159.5" fill="none" stroke="#000" stroke-width="0.95"/>
<text x="361.6" y="210.5" font-size="9.9" style="stroke-width:0.22px" text-anchor="middle">bootstrap</text>
</g>
<rect x="429.6" y="306.0" width="113" height="50.3" rx="1.6" fill="#fff" fill-opacity="0.8" stroke="#ccc" stroke-opacity="0.7" stroke-width="0.8"/>
<line x1="432.9" x2="449.8" y1="311.8" y2="311.8" stroke="#ff0000" stroke-width="3.095" stroke-dasharray="3.1 5.11"/>
<text x="455.7" y="314.79" font-size="8.3">Optimized value</text>
<rect x="432.5" y="321.05" width="16.7" height="5.7" fill="#1f77b4" stroke="#000" stroke-opacity="0.55" stroke-width="0.45"/>
<text x="455.7" y="326.89" font-size="8.3">Bayes search</text>
<rect x="432.5" y="333.15" width="16.7" height="5.7" fill="#ff7f0e" stroke="#000" stroke-opacity="0.55" stroke-width="0.45"/>
<text x="455.7" y="338.99" font-size="8.3">Grid search</text>
<rect x="432.5" y="345.35" width="16.7" height="5.7" fill="#2ca02c" stroke="#000" stroke-opacity="0.55" stroke-width="0.45"/>
<text x="455.7" y="351.19" font-size="8.3">Randomized search</text>
</svg>
</body></html>
